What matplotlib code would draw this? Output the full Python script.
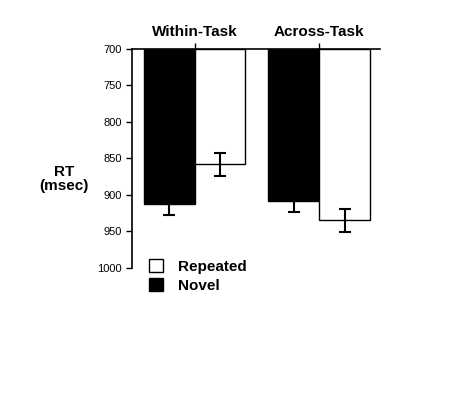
import matplotlib
matplotlib.use('Agg')
import numpy as np
import matplotlib.pyplot as plt
from matplotlib.patches import Patch

plt.rcParams['font.family'] = ['Liberation Sans', 'DejaVu Sans']

# ============================================================
# data
# ============================================================
tasks = ['Within-Task', 'Across-Task']
conditions = ['Novel', 'Repeated']
novel_rt = [913, 909]
repeated_rt = [858, 935]
novel_se = [15, 15]
repeated_se = [16, 16]
yticks = [700, 750, 800, 850, 900, 950, 1000]

# ============================================================
# plot
# ============================================================
fig = plt.figure(figsize=(4.74, 4.12), dpi=100)
ax = fig.add_axes([0.278, 0.350, 0.524, 0.531])

base = 700
group_x = np.array([0.0, 2.45])
w = 1.0
nx = group_x
rx = group_x + w

ax.bar(nx, np.array(novel_rt) - base, width=w, bottom=base, color='black',
       edgecolor='black', linewidth=1, label='Novel', zorder=2)
ax.bar(rx, np.array(repeated_rt) - base, width=w, bottom=base, color='white',
       edgecolor='black', linewidth=1, label='Repeated', zorder=2)
ax.errorbar(nx, novel_rt, yerr=novel_se, fmt='none', ecolor='black',
            elinewidth=1.5, capsize=4, capthick=1.5, zorder=1)
ax.errorbar(rx, repeated_rt, yerr=repeated_se, fmt='none', ecolor='black',
            elinewidth=1.5, capsize=4, capthick=1.5, zorder=3)

ax.set_ylim(1000, 700)
ax.set_xlim(-0.735, 4.15)
ax.set_yticks(yticks)
ax.set_yticklabels([str(t) for t in yticks], fontsize=8)
ax.tick_params(axis='y', length=4, width=1, pad=3)

ax.xaxis.tick_top()
ax.set_xticks(group_x + w / 2)
ax.set_xticklabels(tasks, fontsize=11, fontweight='bold')
ax.tick_params(axis='x', length=4, width=1, pad=3)

ax.spines['bottom'].set_visible(False)
ax.spines['right'].set_visible(False)
ax.spines['top'].set_linewidth(1.2)
ax.spines['left'].set_linewidth(1.2)

fig.text(0.135, 0.565, 'RT\n(msec)', fontsize=11, fontweight='bold',
         ha='center', va='center', linespacing=1.0)

handles = [Patch(facecolor='white', edgecolor='black', label='Repeated'),
           Patch(facecolor='black', edgecolor='black', label='Novel')]
fig.legend(handles=handles, loc='upper left', bbox_to_anchor=(0.285, 0.405),
           frameon=False, prop={'size': 11, 'weight': 'bold'},
           handlelength=0.9, handleheight=0.9, handletextpad=1.0,
           labelspacing=0.3)

fig.savefig('out.png', dpi=100)
